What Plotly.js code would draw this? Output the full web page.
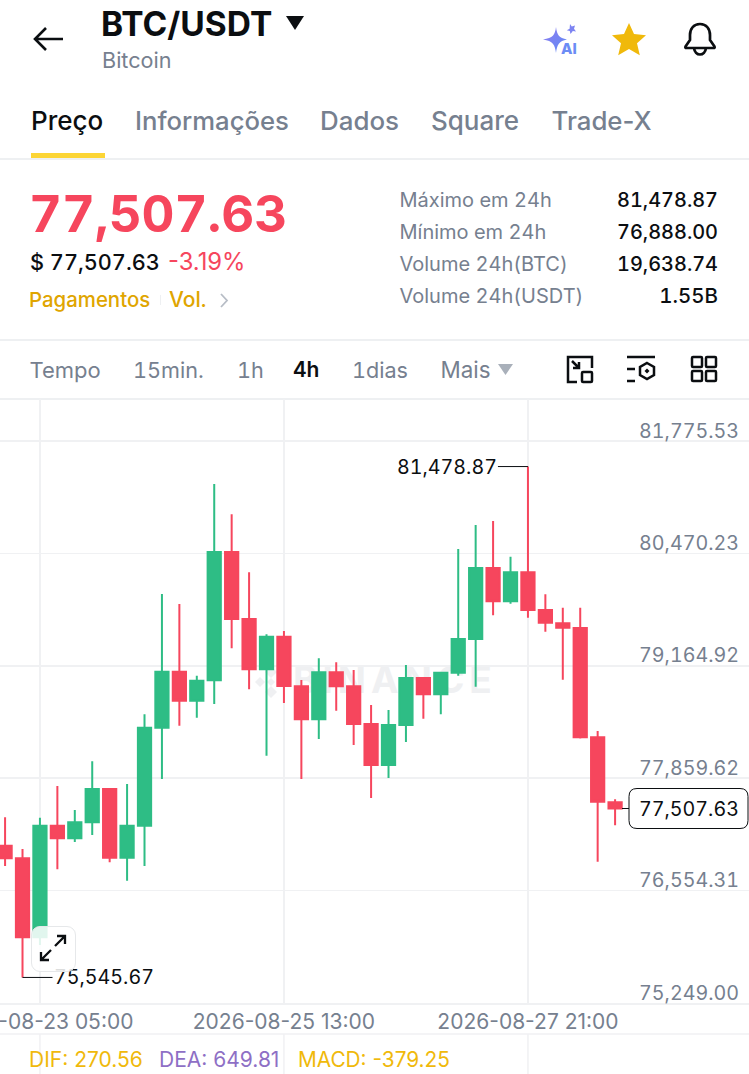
<!DOCTYPE html>
<html>
<head>
<meta charset="utf-8">
<script src="https://cdn.plot.ly/plotly-3.0.1.min.js"></script>
<style>
html,body{margin:0;padding:0;width:749px;height:1074px;overflow:hidden;background:#fff;font-family:Inter,"Noto Sans",sans-serif;font-feature-settings:"tnum";}
text{font-feature-settings:"tnum";}
.xtick text{font-feature-settings:normal;}
.t{position:absolute;white-space:nowrap;height:40px;line-height:40px;transform-origin:left center;}
.r{transform-origin:right center;}
.p{font-feature-settings:normal;}
.g{color:#76808F}.k{color:#0B0E11}
.hr{position:absolute;left:0;width:749px;height:1.5px;background:#EEF0F2}
svg.i{position:absolute;overflow:visible}
#chart{position:absolute;left:0;top:399px;width:749px;height:675px}
</style>
</head>
<body>
<!-- header -->
<svg class="i" style="left:33px;top:26px" width="32" height="26" viewBox="0 0 32 26"><path d="M30 13H2M13 2L2 13l11 11" fill="none" stroke="#0B0E11" stroke-width="2.6"/></svg>
<div class="t k" style="left:101px;top:4px;font-size:33.5px;font-weight:700" id="ttl">BTC/USDT</div>
<svg class="i" style="left:286px;top:16px" width="18" height="14"><path d="M0 0H18L9 14Z" fill="#0B0E11"/></svg>
<div class="t g" style="left:102px;top:40px;font-size:21.6px">Bitcoin</div>
<svg class="i" style="left:543px;top:24px" width="36" height="32" viewBox="0 0 36 32">
<defs><linearGradient id="ai" x1="0" y1="0" x2="1" y2="1"><stop offset="0" stop-color="#8F7BF0"/><stop offset="1" stop-color="#5E8CF5"/></linearGradient></defs>
<path d="M13 3C14 11 16 14 24 15.500C16 17 14 21 13 29C12 21 10 17 0 15.500C10 14 12 11 13 3Z" fill="url(#ai)"/>
<path d="M27 0l1.800 2.600L32 1.500l-1 3.300 2 2.700-3.200-.4L27.500 10l-.7-3-3-.7 2.800-1.500Z" fill="#7D84F2"/>
<text x="18" y="30" font-family="Inter" font-weight="800" font-size="15" fill="#6C8CF5">AI</text></svg>
<svg class="i" style="left:611px;top:22px" width="36" height="34" viewBox="0 0 36 34"><path d="M18 1l5 11 12 1.300-9 8 2.800 12L18 27 7.200 33.300 10 21.300l-9-8L13 12Z" fill="#F0B90B"/></svg>
<svg class="i" style="left:682px;top:22px" width="36" height="34" viewBox="0 0 36 34"><path d="M18 2c-6.500 0-10 5-10 11v5l-4.500 6.500c-.5 1 0 1.500 1 1.500h27c1 0 1.500-.5 1-1.500L28 18v-5c0-6-3.500-11-10-11ZM12 26c.5 4 3 6.500 6 6.500s5.500-2.500 6-6.500" fill="none" stroke="#0B0E11" stroke-width="2.700" stroke-linejoin="round"/></svg>

<div class="t k" style="left:31px;top:101px;font-size:26px;font-weight:500">Preço</div>
<div class="t g" style="left:135px;top:101px;font-size:25.7px;font-weight:500">Informações</div>
<div class="t g" style="left:320px;top:101px;font-size:25.9px;font-weight:500">Dados</div>
<div class="t g" style="left:431px;top:101px;font-size:26px;font-weight:500">Square</div>
<div class="t g p" style="left:551.500px;top:101px;font-size:25.8px;font-weight:500">Trade-X</div>
<div style="position:absolute;left:31px;top:153px;width:74px;height:5px;background:#FCD535"></div>
<div class="hr" style="top:158px"></div>

<div class="t" style="left:29px;top:194px;font-size:51px;font-weight:700;color:#F6465D">77,507.63</div>
<div class="t k" style="left:30px;top:241.500px;font-size:21.7px;font-weight:500">$ 77,507.63</div>
<div class="t p" style="left:168px;top:241.500px;font-size:23.8px;color:#F6465D">-3.19%</div>
<div class="t" style="left:29px;top:280px;font-size:20.4px;font-weight:500;color:#E0A500">Pagamentos</div>
<div style="position:absolute;left:160px;top:295px;width:1px;height:10px;background:#EEF0F2"></div>
<div class="t" style="left:169px;top:280px;font-size:21px;font-weight:500;color:#E0A500">Vol.</div>
<svg class="i" style="left:219px;top:293px" width="10" height="15"><path d="M2 1l6 6.500-6 6.500" fill="none" stroke="#B7BDC6" stroke-width="1.800"/></svg>

<div class="t g" style="left:399.500px;top:180px;font-size:20px">Máximo em 24h</div>
<div class="t g" style="left:399.500px;top:212px;font-size:20px">Mínimo em 24h</div>
<div class="t g" style="left:399.500px;top:244px;font-size:20px">Volume 24h(BTC)</div>
<div class="t g" style="left:399.500px;top:276px;font-size:20px">Volume 24h(USDT)</div>
<div class="t k r" style="right:31px;top:180px;font-size:19.9px;font-weight:500">81,478.87</div>
<div class="t k r" style="right:31px;top:212px;font-size:19.9px;font-weight:500">76,888.00</div>
<div class="t k r" style="right:31px;top:244px;font-size:19.9px;font-weight:500">19,638.74</div>
<div class="t k r" style="right:31px;top:276px;font-size:20.5px;font-weight:500">1.55B</div>
<div class="hr" style="top:339px"></div>

<div class="t g" style="left:29.500px;top:349.500px;font-size:22px">Tempo</div>
<div class="t g" style="left:133px;top:349.500px;font-size:21.6px">15min.</div>
<div class="t g" style="left:237px;top:349.500px;font-size:21.6px">1h</div>
<div class="t k" style="left:293px;top:349.500px;font-size:21px;font-weight:600">4h</div>
<div class="t g" style="left:352px;top:349.500px;font-size:21.6px">1dias</div>
<div class="t g" style="left:440.500px;top:349.500px;font-size:22.4px">Mais</div>
<svg class="i" style="left:498px;top:364px" width="15" height="11"><path d="M0 0H15L7.500 11Z" fill="#A9B0BA"/></svg>
<svg class="i" style="left:566px;top:355px" width="29" height="29" viewBox="0 0 29 29" fill="none" stroke="#0B0E11" stroke-width="2.500"><path d="M11 27H2V2H26V13"/><rect x="16" y="17" width="10" height="10" rx="1"/><path d="M6 6l7 7M13 7v6H7"/></svg>
<svg class="i" style="left:627px;top:355px" width="30" height="30" viewBox="0 0 30 30" fill="none" stroke="#0B0E11" stroke-width="2.500"><path d="M0 2H28M0 14H8M0 26H8"/><path d="M20 8l7 4v8l-7 4-7-4v-8Z"/><path d="M20 13.500l2.500 2.500-2.500 2.500-2.500-2.500Z" fill="#0B0E11" stroke="none"/></svg>
<svg class="i" style="left:690px;top:355px" width="28" height="28" viewBox="0 0 28 28" fill="none" stroke="#0B0E11" stroke-width="2.500"><rect x="2" y="2" width="10" height="10" rx="1"/><rect x="16" y="2" width="10" height="10" rx="1"/><rect x="2" y="16" width="10" height="10" rx="1"/><rect x="16" y="16" width="10" height="10" rx="1"/></svg>
<div class="hr" style="top:398px"></div>

<!-- watermark under the chart -->
<svg class="i" style="left:253px;top:664px" width="36" height="36" viewBox="0 0 36 36"><g fill="#EFF0F2"><path d="M18 2l6 6-6 6-6-6Z"/><path d="M7 13l5 5-5 5-5-5Z"/><path d="M29 13l5 5-5 5-5-5Z"/><path d="M18 14l4 4-4 4-4-4Z"/><path d="M18 22l6 6-6 6-6-6Z"/></g></svg>
<div class="t" style="left:293px;top:660px;font-size:37px;font-weight:700;color:#EFF0F2;letter-spacing:5px">BINANCE</div>

<div id="chart"></div>

<!-- expand button -->
<div style="position:absolute;left:31px;top:926px;width:43px;height:43.500px;border:1.500px solid #E6E8EA;border-radius:9px;background:rgba(255,255,255,.86)"></div>
<svg class="i" style="left:39px;top:934px" width="28" height="28" viewBox="0 0 28 28" fill="none" stroke="#0B0E11" stroke-width="2.300"><path d="M16 12L26 2M18 2h8v8M12 16L2 26M2 18v8h8"/></svg>

<!-- indicator row -->
<div class="t p" style="left:29px;top:1040px;font-size:21px;color:#F0B90B">DIF: 270.56</div>
<div class="t p" style="left:159px;top:1040px;font-size:21px;color:#8E6FC5">DEA: 649.81</div>
<div class="t p" style="left:298px;top:1040px;font-size:20.8px;color:#F0B90B">MACD: -379.25</div>

<script>
var dates = ["2026-08-22 21:00","2026-08-23 01:00","2026-08-23 05:00","2026-08-23 09:00","2026-08-23 13:00","2026-08-23 17:00",
"2026-08-23 21:00","2026-08-24 01:00","2026-08-24 05:00","2026-08-24 09:00","2026-08-24 13:00","2026-08-24 17:00",
"2026-08-24 21:00","2026-08-25 01:00","2026-08-25 05:00","2026-08-25 09:00","2026-08-25 13:00","2026-08-25 17:00",
"2026-08-25 21:00","2026-08-26 01:00","2026-08-26 05:00","2026-08-26 09:00","2026-08-26 13:00","2026-08-26 17:00",
"2026-08-26 21:00","2026-08-27 01:00","2026-08-27 05:00","2026-08-27 09:00","2026-08-27 13:00","2026-08-27 17:00",
"2026-08-27 21:00","2026-08-28 01:00","2026-08-28 05:00","2026-08-28 09:00","2026-08-28 13:00","2026-08-28 17:00"];
var opens = [77075.8,76929.4,76012,77308,77161.7,77347.5,77734.2,76936.4,77308,78446.1,79096.4,78759.6,
78996.5,80486.5,79708.4,79124.3,79502.8,78926.8,78543.6,79089.4,78926.8,78489,78012.9,78477.4,
79023.2,78833.9,79084.8,79476.1,80300.6,79913.9,80250.7,79812.9,79658.5,79603.9,78334.6,77579.7];
var highs = [77405.5,77037.4,77400.9,77769,77490.3,78055.9,77745.8,77792.2,78601.7,79998.7,79882.6,79049.9,
81276.1,80924.3,80250.7,79530.7,79569,79000,79252,79205.5,79116.1,78709.7,78651.6,79174.2,
79023.2,79096.4,80521.3,80800,80846.5,80431.9,81478.87,79995.2,79839.6,79839.6,78407.7,77614.5];
var lows = [76840,75545.67,75922.5,76801.7,77118.7,77200,76882.9,76669.3,76840,77850.3,78469.3,78562.2,
78721.3,79368.1,78892,78120.9,78732.9,77850.3,78314.8,78643.5,78245.1,77629.7,77861.9,78280,
78550.6,78601.7,79049.9,78922.2,79751.4,79886.1,79723.5,79560.9,79003.5,78320.6,76888,77312.6];
var closes = [76929.4,76012,77308,77161.7,77347.5,77734.2,76936.4,77308,78446.1,79096.4,78759.6,78991.9,
80486.5,79708.4,79124.3,79502.8,78930.3,78543.6,79089.4,78926.8,78489,78012.9,78477.4,79023.2,
78833.9,79084.8,79476.1,80300.6,79913.9,80250.7,79812.9,79665.5,79607.3,78334.6,77586.7,77507.63];
var priceTicks = [81775.53,80470.23,79164.92,77859.62,76554.31,75249.00];
var priceTickText = ["81,775.53","80,470.23","79,164.92","77,859.62","76,554.31","75,249.00"];
var timeTicks = ["2026-08-23 05:00","2026-08-25 13:00","2026-08-27 21:00"];
var timeTickText = ["2026-08-23 05:00","2026-08-25 13:00","2026-08-27 21:00"];
var highPoint = {x:"2026-08-27 21:00", y:81478.87, text:"81,478.87"};
var lowPoint = {x:"2026-08-23 01:00", y:75545.67, text:"75,545.67"};
var lastPrice = 77507.63, lastPriceText = "77,507.63";

var GRID = "#F0F1F3", UP = "#2EBD85", DOWN = "#F6465D", GREY = "#76808F", INK = "#0B0E11", FONT = "Inter";
var shapes = timeTicks.map(function(t){
  return {type:"line",xref:"x",yref:"paper",x0:t,x1:t,y0:-0.0513,y1:-0.1175,line:{color:GRID,width:1.5},layer:"below"};
});
shapes.push({type:"line",xref:"paper",yref:"paper",x0:0,x1:1,y0:-0.0513,y1:-0.0513,line:{color:GRID,width:1.5}});
shapes.push({type:"path",xref:"paper",xanchor:1,xsizemode:"pixel",yref:"y",yanchor:lastPrice,ysizemode:"pixel",
  path:"M-112 -20H-9Q-1 -20 -1 -12V12Q-1 20 -9 20H-112Q-120 20 -120 12V-12Q-120 -20 -112 -20Z",
  line:{color:INK,width:1},fillcolor:"#fff",layer:"above"});
shapes.push({type:"path",xref:"paper",xanchor:1,xsizemode:"pixel",yref:"y",yanchor:lastPrice,ysizemode:"pixel",
  path:"M-127 0H-120",line:{color:INK,width:1},layer:"above"});

var trace = {type:"candlestick",x:dates,open:opens,high:highs,low:lows,close:closes,
  increasing:{line:{color:UP,width:2},fillcolor:UP},
  decreasing:{line:{color:DOWN,width:2},fillcolor:DOWN},
  whiskerwidth:0,hoverinfo:"skip",showlegend:false};
var layout = {
  width:749,height:675,margin:{l:0,r:0,t:0,b:71,pad:0},
  paper_bgcolor:"rgba(0,0,0,0)",plot_bgcolor:"rgba(0,0,0,0)",
  font:{family:FONT,size:20,color:GREY},showlegend:false,boxgap:0.24,boxgroupgap:0,
  xaxis:{type:"date",range:["2026-08-22 19:50","2026-08-29 23:44"],rangeslider:{visible:false},
    tickmode:"array",tickvals:timeTicks,ticktext:timeTickText,ticks:"",showgrid:true,gridcolor:GRID,gridwidth:1.5,
    zeroline:false,showline:true,linecolor:GRID,linewidth:2,ticklabeloverflow:"allow",ticklabelstandoff:-1,
    tickfont:{family:FONT,size:21,color:GREY}},
  yaxis:{side:"right",range:[75249,82263.3],tickmode:"array",tickvals:priceTicks,ticktext:priceTickText,
    ticklabelposition:"inside top",ticklabelstandoff:7,ticklabelshift:4,ticklabeloverflow:"allow",showgrid:true,gridcolor:GRID,gridwidth:1.5,zeroline:false,showline:false,
    ticks:"inside",ticklen:10,tickcolor:"rgba(0,0,0,0)",tickfont:{family:FONT,size:19.7,color:GREY}},
  shapes:shapes,
  annotations:[
    {x:highPoint.x,y:highPoint.y,xref:"x",yref:"y",text:highPoint.text,showarrow:true,arrowhead:0,arrowwidth:1,arrowcolor:INK,
     ax:-30,ay:0,xanchor:"right",font:{family:FONT,size:19.7,color:INK},borderpad:0,standoff:0},
    {x:lowPoint.x,y:lowPoint.y,xref:"x",yref:"y",text:lowPoint.text,showarrow:true,arrowhead:0,arrowwidth:1,arrowcolor:INK,
     ax:30,ay:0,xanchor:"left",font:{family:FONT,size:19.7,color:INK},borderpad:0,standoff:0},
    {x:1,y:lastPrice,xref:"paper",yref:"y",xshift:-8,xanchor:"right",text:lastPriceText,showarrow:false,font:{family:FONT,size:19.7,color:INK}}
  ]
};
Plotly.newPlot("chart",[trace],layout,{staticPlot:true,displayModeBar:false});
</script>
</body>
</html>
